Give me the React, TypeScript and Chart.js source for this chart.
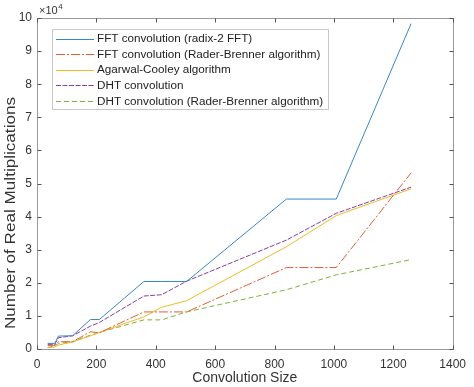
import React, { useEffect, useRef } from "react";
import { Chart, registerables } from "chart.js";
Chart.register(...registerables);

// ---- data ----
const convolutionSizes = [36, 60, 72, 120, 180, 210, 360, 420, 504, 840, 1008, 1260];
const fftRadix2 = [1700, 1700, 3900, 4000, 8900, 8900, 20400, 20400, 20400, 45300, 45300, 98300];
const fftRaderBrenner = [1100, 1100, 2200, 2200, 5200, 4900, 11200, 11200, 11200, 24600, 24600, 53200];
const agarwalCooley = [400, 600, 1200, 2100, 4000, 5000, 9700, 12600, 14600, 30900, 40300, 48400];
const dhtConvolution = [1400, 1400, 3400, 4000, 6900, 8000, 16000, 16400, 20500, 32900, 41000, 48900];
const dhtRaderBrenner = [500, 900, 1700, 2200, 4200, 5000, 8800, 8800, 11200, 17900, 22400, 27000];

const seriesNames = [
  "FFT convolution (radix-2 FFT)",
  "FFT convolution (Rader-Brenner algorithm)",
  "Agarwal-Cooley algorithm",
  "DHT convolution",
  "DHT convolution (Rader-Brenner algorithm)",
];
const seriesValues = [fftRadix2, fftRaderBrenner, agarwalCooley, dhtConvolution, dhtRaderBrenner];
const seriesColors = ["#3a86c2", "#dc5f35", "#efb92a", "#8440a0", "#7fb23a"];
const seriesDashes: number[][] = [[], [9, 2, 2, 2], [], [5, 1.5], [5, 3]];

const xTicks = [0, 200, 400, 600, 800, 1000, 1200, 1400];
const yTicks = [0, 10000, 20000, 30000, 40000, 50000, 60000, 70000, 80000, 90000, 100000];
const yScaleFactor = 10000;
const xTitle = "Convolution Size";
const yTitle = "Number of Real Multiplications";

const FONT = "'Liberation Sans', Arial, Helvetica, sans-serif";

const matlabPlugin = {
  id: "matlabBox",
  afterDatasetsDraw(chart: any) {
    const { ctx, chartArea: a, scales } = chart;
    const L = Math.round(a.left) + 0.5;
    const R = Math.round(a.right) + 0.5;
    const T = Math.round(a.top) + 0.5;
    const B = Math.round(a.bottom) + 0.5;
    ctx.save();
    ctx.strokeStyle = "#9a9a9a";
    ctx.lineWidth = 1;
    ctx.setLineDash([]);
    ctx.strokeRect(L, T, R - L, B - T);
    ctx.strokeStyle = "#555";
    ctx.beginPath();
    xTicks.forEach((v) => {
      const px = Math.round(scales.x.getPixelForValue(v)) + 0.5;
      ctx.moveTo(px, B);
      ctx.lineTo(px, B - 4);
      ctx.moveTo(px, T);
      ctx.lineTo(px, T + 4);
    });
    yTicks.forEach((v) => {
      const py = Math.round(scales.y.getPixelForValue(v)) + 0.5;
      ctx.moveTo(L, py);
      ctx.lineTo(L + 4, py);
      ctx.moveTo(R, py);
      ctx.lineTo(R - 4, py);
    });
    ctx.stroke();

    // exponent label
    ctx.fillStyle = "#333";
    ctx.textBaseline = "alphabetic";
    ctx.textAlign = "left";
    ctx.font = `11px ${FONT}`;
    ctx.fillText("\u00d710", Math.round(a.left) + 2, 14);
    const w = ctx.measureText("\u00d710").width;
    ctx.font = `8px ${FONT}`;
    ctx.fillText("4", Math.round(a.left) + 2 + w + 0.5, 9);

    // y title (slightly stretched along its length, like the reference)
    ctx.save();
    ctx.translate(11, 213);
    ctx.rotate(-Math.PI / 2);
    ctx.scale(1.18, 1);
    ctx.font = `14.5px ${FONT}`;
    ctx.textAlign = "center";
    ctx.textBaseline = "middle";
    ctx.fillStyle = "#333";
    ctx.fillText(yTitle, 0, 0);
    ctx.restore();

    // legend
    const lx = 52.5, ly = 29.5, lw = 276, lh = 80;
    ctx.fillStyle = "#ffffff";
    ctx.fillRect(lx, ly, lw, lh);
    ctx.strokeStyle = "#c8c8c8";
    ctx.strokeRect(lx, ly, lw, lh);
    ctx.font = `11.7px ${FONT}`;
    ctx.textAlign = "left";
    ctx.textBaseline = "middle";
    seriesNames.forEach((name, i) => {
      const y = 38.5 + i * 15.6;
      ctx.strokeStyle = seriesColors[i];
      ctx.lineWidth = 1;
      ctx.setLineDash(seriesDashes[i]);
      ctx.beginPath();
      ctx.moveTo(56, Math.round(y) + 0.5);
      ctx.lineTo(94, Math.round(y) + 0.5);
      ctx.stroke();
      ctx.setLineDash([]);
      ctx.fillStyle = "#222";
      ctx.fillText(name, 97, y + 0.5);
    });
    ctx.restore();
  },
};

export default function App() {
  const ref = useRef<HTMLCanvasElement | null>(null);
  useEffect(() => {
    if (!ref.current) return;
    const chart = new Chart(ref.current, {
      type: "line",
      data: {
        datasets: seriesNames.map((name, i) => ({
          label: name,
          data: convolutionSizes.map((x, j) => ({ x, y: seriesValues[i][j] })),
          borderColor: seriesColors[i],
          backgroundColor: seriesColors[i],
          borderWidth: 1,
          borderDash: seriesDashes[i],
          pointRadius: 0,
          fill: false,
          tension: 0,
        })),
      },
      options: {
        responsive: false,
        animation: false,
        devicePixelRatio: 1,
        layout: { padding: { top: 18, right: 14, left: 0, bottom: 0 } },
        plugins: { legend: { display: false }, tooltip: { enabled: false } },
        scales: {
          x: {
            type: "linear",
            min: 0,
            max: 1400,
            afterFit: (s: any) => { s.height = 38; },
            afterBuildTicks: (s: any) => { s.ticks = xTicks.map((v) => ({ value: v })); },
            ticks: {
              font: { family: FONT, size: 12 },
              color: "#333",
              padding: 8,
              maxRotation: 0,
              autoSkip: false,
              callback: (v: any) => String(v),
            },
            grid: { display: false, drawTicks: false },
            border: { display: false },
            title: {
              display: true,
              text: xTitle,
              font: { family: FONT, size: 14 },
              color: "#333",
              padding: { top: 0, bottom: 0 },
            },
          },
          y: {
            type: "linear",
            min: 0,
            max: 100000,
            afterFit: (s: any) => { s.width = 37; },
            afterBuildTicks: (s: any) => { s.ticks = yTicks.map((v) => ({ value: v })); },
            ticks: {
              font: { family: FONT, size: 12 },
              color: "#333",
              padding: 5,
              callback: (v: any) => String(Number(v) / yScaleFactor),
            },
            grid: { display: false, drawTicks: false },
            border: { display: false },
            title: { display: false },
          },
        },
      },
      plugins: [matlabPlugin],
    });
    return () => chart.destroy();
  }, []);
  return (
    <div style={{ position: "absolute", left: 0, top: 0, width: 474, height: 387, background: "#fff" }}>
      <canvas ref={ref} width={474} height={387} style={{ display: "block" }} />
    </div>
  );
}
